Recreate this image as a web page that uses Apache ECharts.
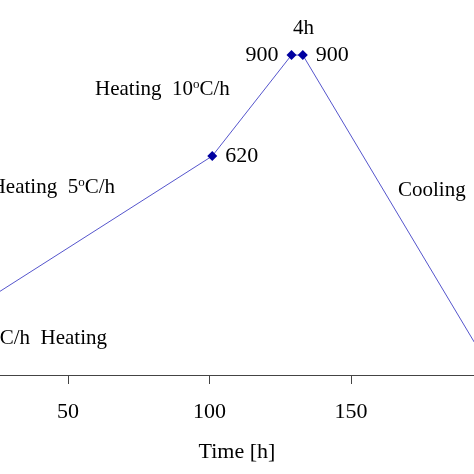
<!DOCTYPE html>
<html><head><meta charset="utf-8">
<script src="https://cdn.jsdelivr.net/npm/echarts@6/dist/echarts.min.js"></script>
<style>html,body{margin:0;background:#fff}#c{width:474px;height:474px}</style>
</head><body><div id="c"></div>
<script>
// heat-treatment schedule
var times = [21, 101, 129, 133, 200];
var temps = [220, 620, 900, 900, 20];
var pointLabels = ['220', '620', '900', '900', ''];
var xTicks = [50, 100, 150];

var chart = echarts.init(document.getElementById('c'));
var serif = 'Liberation Serif';
var rich = { sup: { fontSize: 13, verticalAlign: 'top', padding: [0, 0, 10, 0], fontFamily: serif } };

var data = times.map(function (t, i) {
  var p = { value: [t, temps[i]] };
  if (i === 0) p.label = { show: true, position: 'bottom', offset: [8, 0] };
  if (i === 1) p.label = { show: true, position: 'right' };
  if (i === 2) p.label = { show: true, position: 'left' };
  if (i === 3) p.label = { show: true, position: 'right' };
  if (i === 0 || i === 4) p.symbolSize = 0;
  return p;
});

chart.setOption({
  animation: false,
  grid: { left: 0, right: 0, top: 19, bottom: 99 },
  xAxis: {
    type: 'value', min: 26, max: 193.5,
    name: 'Time [h]', nameLocation: 'middle', nameGap: 66,
    nameTextStyle: { fontFamily: serif, fontSize: 22, color: '#000' },
    axisLine: { lineStyle: { color: '#444' } },
    axisTick: { length: 9, customValues: xTicks, lineStyle: { color: '#444' } },
    axisLabel: { fontFamily: serif, fontSize: 22, color: '#000', margin: 26, customValues: xTicks },
    splitLine: { show: false }
  },
  yAxis: { type: 'value', min: 13, max: 1000, show: false },
  series: [{
    type: 'line', data: data, symbol: 'diamond', symbolSize: 10,
    itemStyle: { color: '#0000a0' },
    lineStyle: { color: '#5555cc', width: 1 },
    label: { fontFamily: serif, fontSize: 22, color: '#000', distance: 8,
      formatter: function (p) { return pointLabels[p.dataIndex]; } }
  }],
  graphic: [
    { type: 'text', x: 293, y: 18, style: { text: '4h', font: '21px ' + serif, fill: '#000' } },
    { type: 'text', x: 95, y: 78, style: { text: 'Heating  10{sup|o}C/h', rich: rich, font: '21px ' + serif, fill: '#000' } },
    { type: 'text', x: 115, y: 176, style: { text: 'Heating  5{sup|o}C/h', rich: rich, font: '21px ' + serif, fill: '#000', align: 'right' } },
    { type: 'text', x: 107, y: 327, style: { text: '10{sup|o}C/h  Heating', rich: rich, font: '21px ' + serif, fill: '#000', align: 'right' } },
    { type: 'text', x: 398, y: 179, style: { text: 'Cooling  13{sup|o}C/h', rich: rich, font: '21px ' + serif, fill: '#000' } }
  ]
});
</script></body></html>
